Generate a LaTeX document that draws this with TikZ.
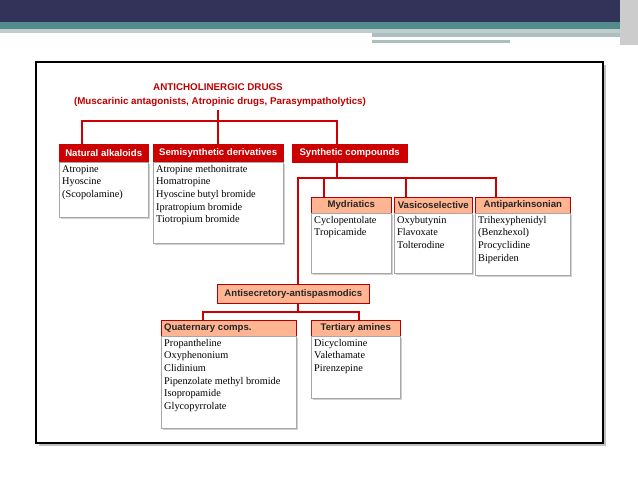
\documentclass[tikz,border=0pt]{standalone}
\usepackage{fontspec}
\usetikzlibrary{shadows}
\setmainfont{Liberation Serif}
\newfontfamily\hdf{Liberation Sans}
\newcommand{\bx}[3]{\parbox[t][#2pt][t]{#1pt}{\raggedright #3}}
\begin{document}
\begin{tikzpicture}[x=1pt,y=-1pt,
  redh/.style={fill=red!80!black,draw=red!80!black,text=white,font=\hdf\bfseries\fontsize{9.6}{11}\selectfont,anchor=north west,inner sep=2.5pt,minimum height=18pt},
  pinkh/.style={fill=orange!30!pink!90,draw=red!70!black,line width=0.6pt,text=black!85,font=\hdf\bfseries\fontsize{9.6}{11}\selectfont,anchor=north west,inner sep=2.5pt,minimum height=16pt},
  bodyb/.style={draw=gray!70,fill=white,anchor=north west,font=\fontsize{10.3}{12.6}\selectfont,inner sep=3pt,drop shadow={opacity=0.35,shadow xshift=1.5pt,shadow yshift=-1.5pt}},
  conn/.style={draw=red!80!black,line width=1.6pt},
  ttl/.style={text=red!75!black,font=\hdf\bfseries\fontsize{9.8}{11}\selectfont}]
\useasboundingbox (0,0) rectangle (638,478);
% header band
\fill[black!75!blue!60!gray] (0,0) rectangle (638,22);
\fill[teal!50!gray!90] (0,22) rectangle (638,29);
\fill[teal!20!gray!40] (0,29) rectangle (638,33);
\fill[teal!30!gray!50] (372,33) rectangle (638,37);
\fill[white] (372,37) rectangle (600,38.5);
\fill[teal!30!gray!50] (372,40) rectangle (510,43);
\fill[gray!40] (620,0) rectangle (638,45);
% frame
\fill[gray!50] (39,65) rectangle (606,446);
\draw[line width=2pt,fill=white] (36,62) rectangle (603,443);
% titles
\node[ttl] (t1) at (218,87) {ANTICHOLINERGIC DRUGS};
\node[ttl] (t2) at (220,102) {(Muscarinic antagonists, Atropinic drugs, Parasympatholytics)};
% top level
\node[redh,minimum width=89pt] (nat) at (59,144) {Natural alkaloids};
\node[redh,minimum width=130pt] (semi) at (153,144) {Semisynthetic derivatives};
\node[redh,minimum width=115pt] (syn) at (292,144) {Synthetic compounds};
\node[bodyb] (natb) at (59,162) {\bx{83}{49}{Atropine\\Hyoscine\\(Scopolamine)}};
\node[bodyb] (semib) at (153,162) {\bx{124}{75}{Atropine methonitrate\\Homatropine\\Hyoscine butyl bromide\\Ipratropium bromide\\Tiotropium bromide}};
% second level
\node[pinkh,minimum width=80pt] (myd) at (311,197) {Mydriatics};
\node[pinkh,minimum width=78pt] (vas) at (394,197) {Vasicoselective};
\node[pinkh,minimum width=95pt] (ap) at (475,197) {Antiparkinsonian};
\node[bodyb] (mydb) at (311,213) {\bx{74}{54}{Cyclopentolate\\Tropicamide}};
\node[bodyb] (vasb) at (394,213) {\bx{72}{54}{Oxybutynin\\Flavoxate\\Tolterodine}};
\node[bodyb] (apb) at (475,213) {\bx{89}{56}{Trihexyphenidyl\\(Benzhexol)\\Procyclidine\\Biperiden}};
\node[pinkh,minimum width=152pt,minimum height=19pt] (anti) at (217,284) {Antisecretory-antispasmodics};
\node[pinkh,minimum width=135pt] (quat) at (161,320) {Quaternary comps.\hspace*{42pt}};
\node[pinkh,minimum width=89pt] (tert) at (311,320) {Tertiary amines};
\node[bodyb] (quatb) at (161,336) {\bx{129}{86}{Propantheline\\Oxyphenonium\\Clidinium\\Pipenzolate methyl bromide\\Isopropamide\\Glycopyrrolate}};
\node[bodyb] (tertb) at (311,336) {\bx{83}{56}{Dicyclomine\\Valethamate\\Pirenzepine}};
% connectors
\coordinate (j1) at (218,121);
\draw[conn] (t2.south -| j1) -- (j1);
\draw[conn] (nat.north -| 82,0) |- (j1) -| (syn.north -| 337,0);
\draw[conn] (j1) -- (semi.north -| j1);
\coordinate (j2) at (337,178);
\draw[conn] (syn.south -| j2) -- (j2);
\draw[conn] (anti.north -| 298,0) |- (j2) -| (ap.north -| 496,0);
\draw[conn] (myd.north -| 324,0) -- (324,178);
\draw[conn] (vas.north -| 406,0) -- (406,178);
\coordinate (j3) at (298,312);
\draw[conn] (anti.south -| j3) -- (j3);
\draw[conn] (quat.north -| 203,0) |- (j3) -| (tert.north -| 359,0);
\end{tikzpicture}
\end{document}
